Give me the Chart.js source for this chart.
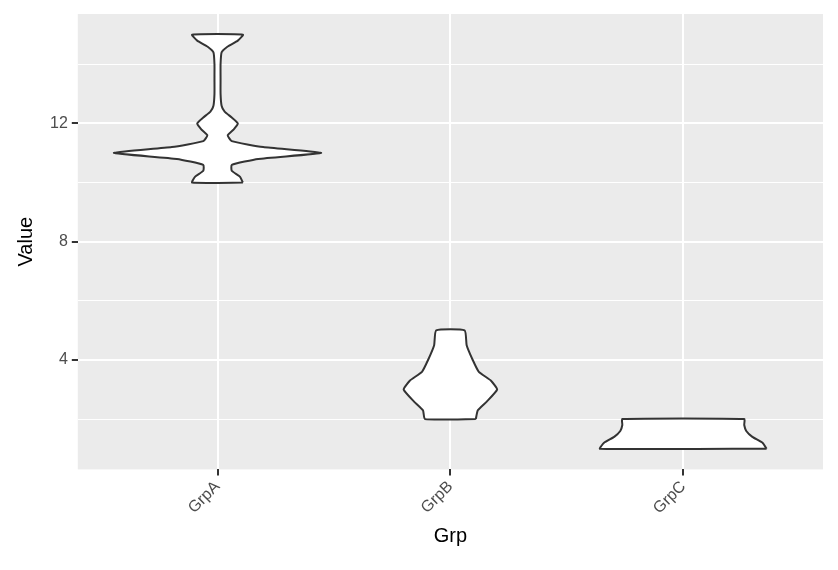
<!DOCTYPE html>
<html><head><meta charset="utf-8">
<script src="https://cdn.jsdelivr.net/npm/chart.js@4"></script>
<style>html,body{margin:0;background:#fff}#w{width:838px;height:570px}</style>
</head><body><div id="w"><canvas id="c"></canvas></div>
<script>
const categories = ["GrpA","GrpB","GrpC"];
// density profiles: [value, half-width in px units of the reference at 229px per category]
const grpA = [[10,25],[10.2,22],[10.4,14],[10.6,14],[10.8,40],[11,102],[11.2,45],[11.4,14],[11.6,10],[11.8,16],[12,20],[12.2,14],[12.4,7],[12.6,4],[13,3],[13.5,3],[14,3],[14.4,4],[14.6,10],[14.8,20],[15,25]];
const grpB = [[2,25],[2.3,27],[2.6,36],[3,46],[3.3,40],[3.6,28],[4,22],[4.5,16],[5,14]];
const grpC = [[1,82],[1.2,78],[1.4,68],[1.6,62],[1.8,60],[2,60]];
const yTicks = [4,8,12];
const groups = [grpA,grpB,grpC];
const maxHalf = 102;
function outline(prof, idx){
  const cx = idx+1, s = 0.445/maxHalf;
  const right = prof.map(p=>({x:cx+p[1]*s,y:p[0]}));
  const left = prof.slice().reverse().map(p=>({x:cx-p[1]*s,y:p[0]}));
  const pts = right.concat(left);
  pts.push(pts[0]);
  return pts;
}
const bg = {id:'bg',beforeDraw(ch){const a=ch.chartArea,c=ch.ctx;c.save();c.fillStyle='#EBEBEB';c.fillRect(a.left,a.top,a.right-a.left,a.bottom-a.top);c.restore();}};
new Chart(document.getElementById('c'),{
  type:'scatter',
  data:{datasets:groups.map((g,i)=>({label:categories[i],data:outline(g,i),showLine:true,fill:'shape',backgroundColor:'#fff',borderColor:'#333',borderWidth:2,pointRadius:0,tension:0.15}))},
  options:{responsive:true,maintainAspectRatio:false,animation:false,
    layout:{padding:{top:14,right:15,left:10,bottom:18}},
    plugins:{legend:{display:false},tooltip:{enabled:false}},
    scales:{
      x:{type:'linear',min:0.4,max:3.6,
        afterBuildTicks(ax){ax.ticks=[1,2,3].map(v=>({value:v}));},
        ticks:{callback:v=>categories[v-1],color:'#4D4D4D',font:{size:16,family:'Liberation Sans'},maxRotation:45,minRotation:45,padding:2},
        grid:{color:'#fff',lineWidth:2,tickLength:6,tickColor:'#333',drawTicks:true},border:{display:false},
        title:{display:true,text:'Grp',color:'#000',font:{size:20,family:'Liberation Sans'},padding:{top:4}}},
      y:{min:0.3,max:15.7,
        afterBuildTicks(ax){ax.ticks=[2,4,6,8,10,12,14].map(v=>({value:v}));},
        ticks:{callback:v=>yTicks.includes(v)?String(v):'',color:'#4D4D4D',font:{size:16,family:'Liberation Sans'},padding:4},
        grid:{color:'#fff',lineWidth:c=>yTicks.includes(c.tick.value)?2:1,tickLength:6,tickColor:c=>yTicks.includes(c.tick.value)?'#333':'rgba(0,0,0,0)'},border:{display:false},
        title:{display:true,text:'Value',color:'#000',font:{size:20,family:'Liberation Sans'},padding:{bottom:8}}}
    }},
  plugins:[bg]
});
</script></body></html>
